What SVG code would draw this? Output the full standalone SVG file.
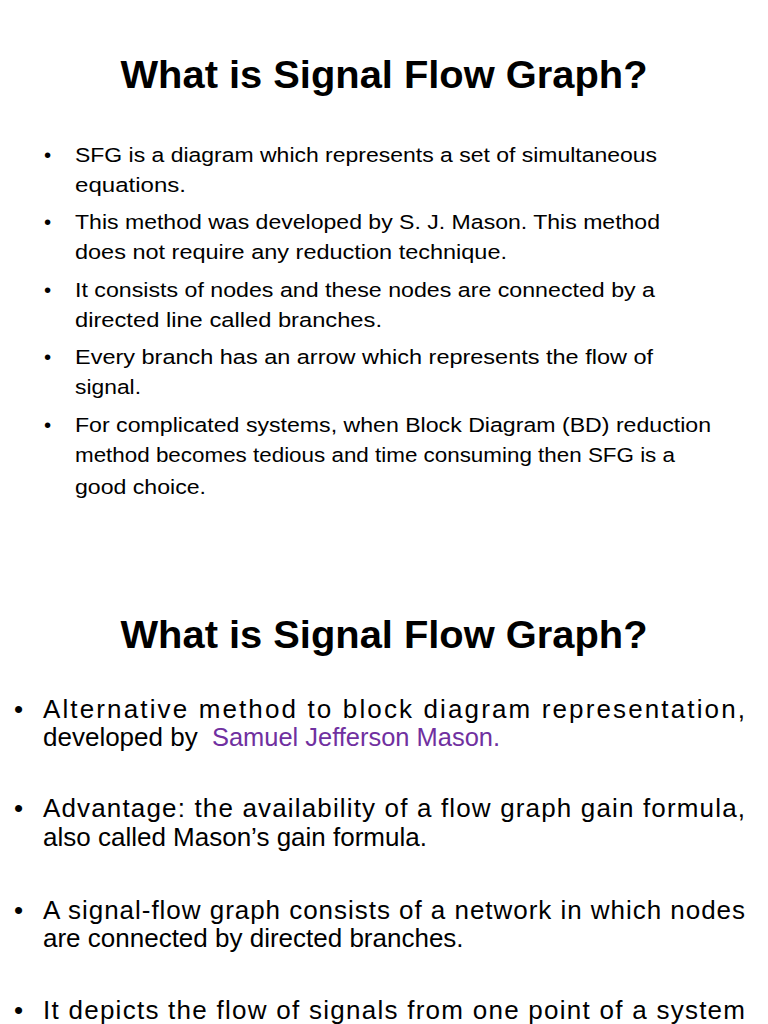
<svg xmlns="http://www.w3.org/2000/svg" width="768" height="1024" viewBox="0 0 768 1024">
<style>
.t{font-family:"Liberation Sans",Arial,sans-serif;font-weight:bold;font-size:38px;fill:#000;text-anchor:middle}
.a{font-family:"Liberation Sans",Arial,sans-serif;font-size:20.5px;fill:#000}
.b{font-family:"Liberation Sans",Arial,sans-serif;font-size:26px;fill:#000}
.p{fill:#7030a0}
</style>
<rect width="768" height="1024" fill="#fff"/>
<g id="slide1">
<text class="t" x="384" y="88" textLength="527" lengthAdjust="spacingAndGlyphs">What is Signal Flow Graph?</text>
<g class="a">
<text x="44" y="162">•</text>
<text x="75" y="162" textLength="582" lengthAdjust="spacingAndGlyphs">SFG is a diagram which represents a set of simultaneous</text>
<text x="75" y="192" textLength="111" lengthAdjust="spacingAndGlyphs">equations.</text>
<text x="44" y="229">•</text>
<text x="75" y="229" textLength="585" lengthAdjust="spacingAndGlyphs">This method was developed by S. J. Mason. This method</text>
<text x="75" y="259" textLength="432" lengthAdjust="spacingAndGlyphs">does not require any reduction technique.</text>
<text x="44" y="297">•</text>
<text x="75" y="297" textLength="580" lengthAdjust="spacingAndGlyphs">It consists of nodes and these nodes are connected by a</text>
<text x="75" y="327" textLength="307" lengthAdjust="spacingAndGlyphs">directed line called branches.</text>
<text x="44" y="364">•</text>
<text x="75" y="364" textLength="578" lengthAdjust="spacingAndGlyphs">Every branch has an arrow which represents the flow of</text>
<text x="75" y="394" textLength="66" lengthAdjust="spacingAndGlyphs">signal.</text>
<text x="44" y="432">•</text>
<text x="75" y="432" textLength="636" lengthAdjust="spacingAndGlyphs">For complicated systems, when Block Diagram (BD) reduction</text>
<text x="75" y="462" textLength="600" lengthAdjust="spacingAndGlyphs">method becomes tedious and time consuming then SFG is a</text>
<text x="75" y="494" textLength="131" lengthAdjust="spacingAndGlyphs">good choice.</text>
</g>
</g>
<g id="slide2">
<text class="t" x="384" y="648" textLength="527" lengthAdjust="spacingAndGlyphs">What is Signal Flow Graph?</text>
<g class="b">
<text x="14" y="718">•</text>
<text x="43" y="718" textLength="702" lengthAdjust="spacing">Alternative method to block diagram representation,</text>
<text x="43" y="746">developed by</text>
<text x="212" y="746" class="p" textLength="288" lengthAdjust="spacingAndGlyphs">Samuel Jefferson Mason.</text>
<text x="14" y="817">•</text>
<text x="43" y="817" textLength="702" lengthAdjust="spacing">Advantage: the availability of a flow graph gain formula,</text>
<text x="43" y="846">also called Mason’s gain formula.</text>
<text x="14" y="919">•</text>
<text x="43" y="919" textLength="702" lengthAdjust="spacing">A signal-flow graph consists of a network in which nodes</text>
<text x="43" y="947">are connected by directed branches.</text>
<text x="14" y="1019">•</text>
<text x="43" y="1019" textLength="702" lengthAdjust="spacing">It depicts the flow of signals from one point of a system</text>
</g>
</g>
</svg>
